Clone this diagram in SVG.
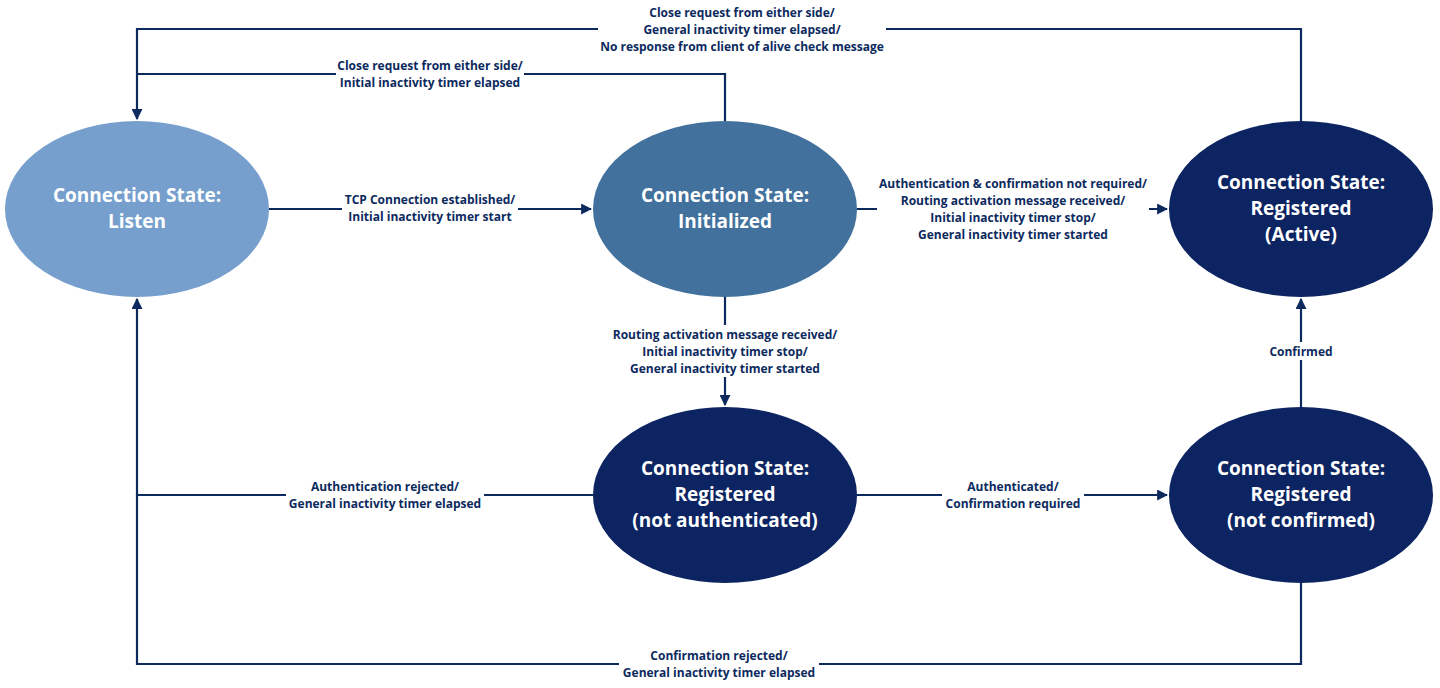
<svg xmlns="http://www.w3.org/2000/svg" width="1440" height="688" viewBox="0 0 1440 688">
<defs>
<marker id="ah" viewBox="0 0 10 10" refX="9" refY="5" markerWidth="5" markerHeight="5" orient="auto"><path d="M0,0 L10,5 L0,10 z" fill="#0c2a5e"/></marker>
<style>
.c{fill:none;stroke:#0c2a5e;stroke-width:2.2}
.m{fill:#fff}
.l{font-family:"Open Sans","Liberation Sans",sans-serif;font-weight:bold;font-size:12px;fill:#0c2a5e;text-anchor:middle;stroke:#fff;stroke-width:6;paint-order:stroke;stroke-linejoin:round}
.n{font-family:"Open Sans","Liberation Sans",sans-serif;font-weight:bold;font-size:19px;fill:#fff;text-anchor:middle}
</style>
</defs>
<rect width="1440" height="688" fill="#fff"/>
<g id="connectors">
<path class="c" d="M1301,121 V29 H137 V119" marker-end="url(#ah)"/>
<path class="c" d="M725,121 V74 H137"/>
<path class="c" d="M269,209 H591" marker-end="url(#ah)"/>
<path class="c" d="M857,209 H1167" marker-end="url(#ah)"/>
<path class="c" d="M725,297 V405" marker-end="url(#ah)"/>
<path class="c" d="M593,495 H137 V299" marker-end="url(#ah)"/>
<path class="c" d="M857,495 H1167" marker-end="url(#ah)"/>
<path class="c" d="M1301,407 V299" marker-end="url(#ah)"/>
<path class="c" d="M1301,583 V664 H137 V495"/>
<rect class="m" x="598" y="24" width="288" height="10"/>
<rect class="m" x="336" y="69" width="188" height="10"/>
<rect class="m" x="342" y="204" width="176" height="10"/>
<rect class="m" x="877" y="204" width="272" height="10"/>
<rect class="m" x="720" y="325" width="10" height="52"/>
<rect class="m" x="286" y="490" width="198" height="10"/>
<rect class="m" x="942" y="490" width="142" height="10"/>
<rect class="m" x="1296" y="342" width="10" height="18"/>
<rect class="m" x="619" y="659" width="200" height="10"/>
<text class="l" x="742" y="17">Close request from either side/</text>
<text class="l" x="742" y="34">General inactivity timer elapsed/</text>
<text class="l" x="742" y="51">No response from client of alive check message</text>
<text class="l" x="430" y="70">Close request from either side/</text>
<text class="l" x="430" y="87">Initial inactivity timer elapsed</text>
<text class="l" x="430" y="204">TCP Connection established/</text>
<text class="l" x="430" y="221">Initial inactivity timer start</text>
<text class="l" x="1013" y="188">Authentication &amp; confirmation not required/</text>
<text class="l" x="1013" y="205">Routing activation message received/</text>
<text class="l" x="1013" y="222">Initial inactivity timer stop/</text>
<text class="l" x="1013" y="239">General inactivity timer started</text>
<text class="l" x="725" y="339">Routing activation message received/</text>
<text class="l" x="725" y="356">Initial inactivity timer stop/</text>
<text class="l" x="725" y="373">General inactivity timer started</text>
<text class="l" x="385" y="491">Authentication rejected/</text>
<text class="l" x="385" y="508">General inactivity timer elapsed</text>
<text class="l" x="1013" y="491">Authenticated/</text>
<text class="l" x="1013" y="508">Confirmation required</text>
<text class="l" x="1301" y="356">Confirmed</text>
<text class="l" x="719" y="660">Confirmation rejected/</text>
<text class="l" x="719" y="677">General inactivity timer elapsed</text>
</g>
<g id="listen"><ellipse cx="137" cy="209" rx="132" ry="88" fill="#769fcd"/>
<text class="n" x="137" y="202">Connection State:</text><text class="n" x="137" y="228">Listen</text></g>
<g id="initialized"><ellipse cx="725" cy="209" rx="132" ry="88" fill="#41719c"/>
<text class="n" x="725" y="202">Connection State:</text><text class="n" x="725" y="228">Initialized</text></g>
<g id="active"><ellipse cx="1301" cy="209" rx="132" ry="88" fill="#0c2461"/>
<text class="n" x="1301" y="189">Connection State:</text><text class="n" x="1301" y="215">Registered</text><text class="n" x="1301" y="241">(Active)</text></g>
<g id="notauth"><ellipse cx="725" cy="495" rx="132" ry="88" fill="#0c2461"/>
<text class="n" x="725" y="475">Connection State:</text><text class="n" x="725" y="501">Registered</text><text class="n" x="725" y="527">(not authenticated)</text></g>
<g id="notconf"><ellipse cx="1301" cy="495" rx="132" ry="88" fill="#0c2461"/>
<text class="n" x="1301" y="475">Connection State:</text><text class="n" x="1301" y="501">Registered</text><text class="n" x="1301" y="527">(not confirmed)</text></g>
</svg>
